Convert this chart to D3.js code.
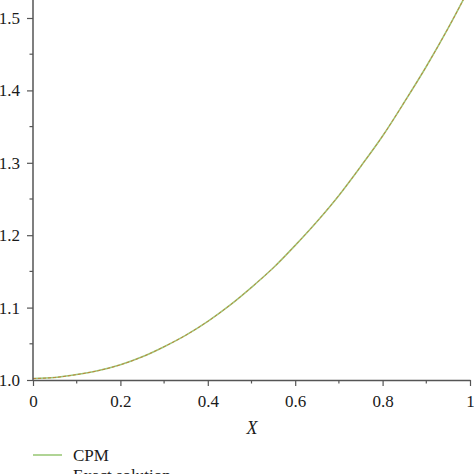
<!DOCTYPE html>
<html><head><meta charset="utf-8">
<script src="https://cdn.jsdelivr.net/npm/d3@7"></script>
<style>body{margin:0;background:#fff}svg{display:block}</style>
</head><body>
<script>
const xValues = [0,0.05,0.1,0.15,0.2,0.25,0.3,0.35,0.4,0.45,0.5,0.55,0.6,0.65,0.7,0.75,0.8,0.85,0.9,0.95,1.0];
const cpmValues = [1.002,1.0035,1.0075,1.013,1.021,1.032,1.046,1.062,1.081,1.103,1.128,1.155,1.186,1.219,1.255,1.295,1.337,1.384,1.433,1.486,1.543];
const exactValues = [1.002,1.0035,1.0075,1.013,1.021,1.032,1.046,1.062,1.081,1.103,1.128,1.155,1.186,1.219,1.255,1.295,1.337,1.384,1.433,1.486,1.543];
const xTicks = [0,0.2,0.4,0.6,0.8,1];
const xTickLabels = ["0","0.2","0.4","0.6","0.8","1"];
const yTicks = [1.0,1.1,1.2,1.3,1.4,1.5];
const yTickLabels = ["1.0","1.1","1.2","1.3","1.4","1.5"];
const xMinor = [0.1,0.3,0.5,0.7,0.9];
const yMinor = [1.05,1.15,1.25,1.35,1.45];
const seriesNames = ["CPM","Exact solution"];

const W=474,H=474;
const svg=d3.select("body").append("svg").attr("width",W).attr("height",H);
const x=d3.scaleLinear().domain([0,1]).range([33,470]);
const y=d3.scaleLinear().domain([1,1.5]).range([380,18]);
const axisColor="#555";
const font="'Liberation Serif','Times New Roman',serif";

svg.append("clipPath").attr("id","c").append("rect").attr("x",33).attr("y",0).attr("width",440).attr("height",380);

const line=d3.line().x((d,i)=>x(xValues[i])).y(d=>y(d)).curve(d3.curveMonotoneX);
const g=svg.append("g").attr("clip-path","url(#c)");
g.append("path").datum(cpmValues).attr("d",line).attr("fill","none").attr("stroke","#9cc97a").attr("stroke-width",1.6);
g.append("path").datum(exactValues).attr("d",line).attr("fill","none").attr("stroke","#c0843a").attr("stroke-width",1).attr("stroke-dasharray","3,2");

// x axis
const xa=svg.append("g").attr("transform","translate(0,380)")
  .call(d3.axisBottom(x).tickValues(xTicks).tickFormat((d,i)=>xTickLabels[i]).tickSize(6).tickPadding(9).tickSizeOuter(0));
xa.select(".domain").attr("stroke",axisColor).attr("stroke-width",1.5);
xa.selectAll(".tick line").attr("stroke",axisColor).attr("stroke-width",1.2);
xa.selectAll("text").attr("font-family",font).attr("font-size",17).attr("fill","#1a1a1a");
xa.selectAll(".minor").data(xMinor).enter().append("line").attr("x1",d=>x(d)).attr("x2",d=>x(d)).attr("y1",0).attr("y2",3.5).attr("stroke",axisColor).attr("stroke-width",1.2);

// y axis
const ya=svg.append("g").attr("transform","translate(33,0)")
  .call(d3.axisLeft(y).tickValues(yTicks).tickFormat((d,i)=>yTickLabels[i]).tickSize(6).tickPadding(7).tickSizeOuter(0));
ya.select(".domain").remove();
ya.append("line").attr("x1",0).attr("x2",0).attr("y1",0).attr("y2",380).attr("stroke",axisColor).attr("stroke-width",1.5);
ya.selectAll(".tick line").attr("stroke",axisColor).attr("stroke-width",1.2);
ya.selectAll("text").attr("font-family",font).attr("font-size",17).attr("fill","#1a1a1a");
ya.selectAll(".minor").data(yMinor).enter().append("line").attr("y1",d=>y(d)).attr("y2",d=>y(d)).attr("x1",0).attr("x2",-3.5).attr("stroke",axisColor).attr("stroke-width",1.2);

// axis label
svg.append("text").attr("x",252).attr("y",434).attr("text-anchor","middle").attr("font-family",font).attr("font-style","italic").attr("font-size",18).attr("fill","#1a1a1a").text("X");

// legend
const leg=[{c:"#9cc97a",dash:null,w:1.6},{c:"#c0843a",dash:"3,2",w:1}];
seriesNames.forEach((n,i)=>{
  const ly=455+i*20;
  svg.append("line").attr("x1",33).attr("x2",62).attr("y1",ly).attr("y2",ly).attr("stroke",leg[i].c).attr("stroke-width",leg[i].w).attr("stroke-dasharray",leg[i].dash);
  svg.append("text").attr("x",73).attr("y",ly+5.5).attr("font-family",font).attr("font-size",17).attr("fill","#1a1a1a").text(n);
});
</script>
</body></html>
